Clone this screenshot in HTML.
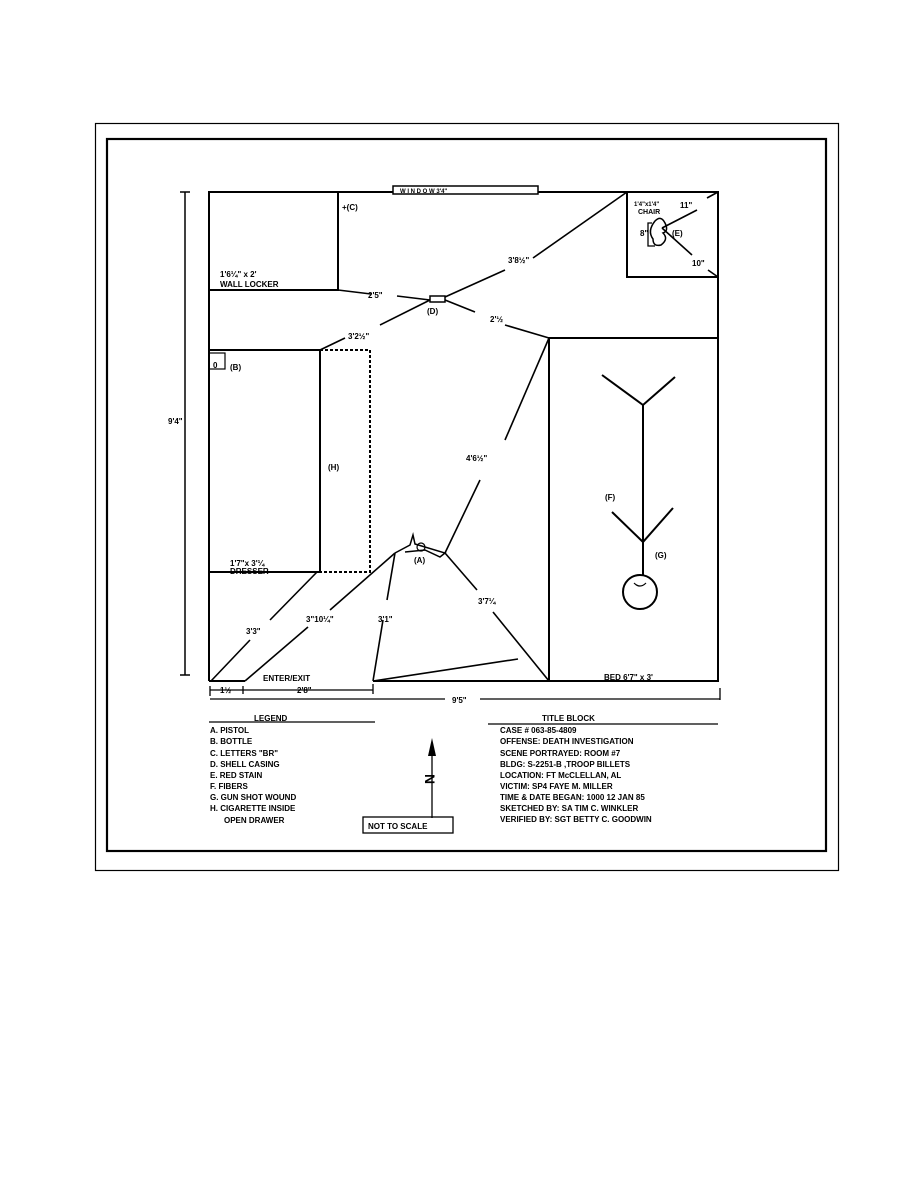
<!DOCTYPE html>
<html><head><style>
body{margin:0;background:#fff;width:918px;height:1188px;overflow:hidden}
svg{display:block}
text{font-family:"Liberation Sans",sans-serif;font-weight:bold;fill:#000}
</style></head><body>
<svg width="918" height="1188" viewBox="0 0 918 1188">
<rect x="95.5" y="123.5" width="743" height="747" fill="none" stroke="#000" stroke-width="1.2"/>
<rect x="107" y="139" width="719" height="712" fill="none" stroke="#000" stroke-width="2.2"/>
<g stroke="#000" fill="none" stroke-width="2">
<polyline points="209,681 209,192 718,192 718,681 373,681"/>
<line x1="209" y1="681" x2="245" y2="681"/>
<rect x="393" y="186" width="145" height="8" fill="#fff" stroke-width="1.5"/>
<polyline points="338,192 338,290 209,290"/>
<polyline points="627,192 627,277 718,277"/>
<polyline points="718,338 549,338 549,681"/>
<polyline points="209,350 320,350 320,572 209,572"/>
<polyline points="320,350 370,350 370,572 320,572" stroke-dasharray="3,2"/>
<rect x="209" y="353" width="16" height="16" stroke-width="1.2"/>
<g stroke-width="1.6">
<line x1="338" y1="290" x2="371" y2="294"/><line x1="397" y1="296" x2="430" y2="300"/>
<line x1="445" y1="297" x2="505" y2="270"/><line x1="533" y1="258" x2="627" y2="192"/>
<line x1="445" y1="300" x2="475" y2="312"/><line x1="505" y1="325" x2="549" y2="338"/>
<line x1="430" y1="300" x2="380" y2="325"/><line x1="345" y1="338" x2="320" y2="350"/>
<line x1="445" y1="553" x2="480" y2="480"/><line x1="505" y1="440" x2="549" y2="338"/>
<line x1="445" y1="553" x2="477" y2="590"/><line x1="493" y1="612" x2="549" y2="681"/>
<line x1="373" y1="681" x2="383" y2="620"/><line x1="387" y1="600" x2="395" y2="553"/>
<line x1="245" y1="681" x2="308" y2="627"/><line x1="330" y1="610" x2="395" y2="553"/>
<line x1="211" y1="681" x2="250" y2="640"/><line x1="270" y1="620" x2="317" y2="572"/>
<line x1="373" y1="681" x2="518" y2="659"/>
<line x1="697" y1="210" x2="662" y2="228"/><line x1="662" y1="228" x2="692" y2="255"/>
<line x1="707" y1="198" x2="718" y2="192"/><line x1="708" y1="270" x2="718" y2="277"/>
</g>
<rect x="430" y="296" width="15" height="6" stroke-width="1.5"/>
<polyline points="395,553 410,545 413,535 415,544 445,553 440,557 425,550 405,552" stroke-width="1.5"/>
<circle cx="421" cy="547" r="4" stroke-width="1.2"/>
<path d="M655,221 q6,-6 10,2 q4,8 -2,10 q6,6 -2,12 q-8,2 -8,-6 q-6,-8 2,-18z" stroke-width="1.5"/>
<polyline points="652,223 648,223 648,246 655,246" stroke-width="1.3"/>
<polyline points="602,375 643,405 675,377"/>
<line x1="643" y1="405" x2="643" y2="575"/>
<polyline points="612,512 643,542 673,508"/>
<ellipse cx="640" cy="592" rx="17" ry="17"/>
<path d="M634,583 q6,6 12,0" stroke-width="1.2"/>
<line x1="185" y1="192" x2="185" y2="675" stroke-width="1.5"/>
<line x1="180" y1="192" x2="190" y2="192" stroke-width="1.5"/>
<line x1="180" y1="675" x2="190" y2="675" stroke-width="1.5"/>
<line x1="210" y1="690" x2="373" y2="690" stroke-width="1.3"/>
<line x1="210" y1="686" x2="210" y2="696" stroke-width="1.3"/><line x1="243" y1="686" x2="243" y2="694" stroke-width="1.3"/><line x1="373" y1="684" x2="373" y2="694" stroke-width="1.3"/>
<line x1="210" y1="699" x2="445" y2="699" stroke-width="1.3"/><line x1="480" y1="699" x2="720" y2="699" stroke-width="1.3"/>
<line x1="720" y1="688" x2="720" y2="700" stroke-width="1.3"/>
<line x1="209" y1="722" x2="375" y2="722" stroke-width="1.3"/>
<line x1="488" y1="724" x2="718" y2="724" stroke-width="1.3"/>
<line x1="432" y1="745" x2="432" y2="818" stroke-width="1.3"/>
<rect x="363" y="817" width="90" height="16" stroke-width="1.3"/>
</g>
<polygon points="432,738 428,756 436,756" fill="#000"/>
<text x="424" y="785" font-size="14" transform="rotate(90 430 780)">N</text>
<g font-size="8">
<text x="400" y="193" font-size="6">W I N D O W  3'4"</text>
<text x="342" y="210">+(C)</text>
<text x="220" y="277">1'6¼" x 2'</text><text x="220" y="287">WALL LOCKER</text>
<text x="634" y="206" font-size="6">1'4"x1'4"</text><text x="638" y="214" font-size="7">CHAIR</text>
<text x="680" y="208">11"</text><text x="640" y="236">8"</text><text x="672" y="236">(E)</text><text x="692" y="266">10"</text>
<text x="508" y="263">3'8½"</text>
<text x="368" y="298">2'5"</text>
<text x="427" y="314">(D)</text>
<text x="490" y="322">2'½</text>
<text x="348" y="339">3'2½"</text>
<text x="213" y="368">0</text><text x="230" y="370">(B)</text>
<text x="328" y="470">(H)</text>
<text x="466" y="461">4'6½"</text>
<text x="605" y="500">(F)</text><text x="655" y="558">(G)</text>
<text x="230" y="566">1'7"x 3'¼</text><text x="230" y="574">DRESSER</text>
<text x="414" y="563">(A)</text>
<text x="478" y="604">3'7¼</text>
<text x="378" y="622">3'1"</text>
<text x="306" y="622">3"10¼"</text>
<text x="246" y="634">3'3"</text>
<text x="263" y="681">ENTER/EXIT</text>
<text x="604" y="680">BED 6'7" x 3'</text>
<text x="220" y="693">1½</text><text x="297" y="693">2'8"</text>
<text x="452" y="703">9'5"</text>
<text x="168" y="424">9'4"</text>
<text x="254" y="721">LEGEND</text>
<text x="210" y="733">A. PISTOL</text>
<text x="210" y="744">B. BOTTLE</text>
<text x="210" y="756">C. LETTERS "BR"</text>
<text x="210" y="767">D. SHELL CASING</text>
<text x="210" y="778">E. RED STAIN</text>
<text x="210" y="789">F. FIBERS</text>
<text x="210" y="800">G. GUN SHOT WOUND</text>
<text x="210" y="811">H. CIGARETTE INSIDE</text>
<text x="224" y="823">OPEN DRAWER</text>
<text x="368" y="829">NOT TO SCALE</text>
<text x="542" y="721">TITLE BLOCK</text>
<text x="500" y="733">CASE # 063-85-4809</text>
<text x="500" y="744">OFFENSE: DEATH INVESTIGATION</text>
<text x="500" y="756">SCENE PORTRAYED: ROOM #7</text>
<text x="500" y="767">BLDG: S-2251-B ,TROOP BILLETS</text>
<text x="500" y="778">LOCATION: FT McCLELLAN, AL</text>
<text x="500" y="789">VICTIM: SP4 FAYE M. MILLER</text>
<text x="500" y="800">TIME &amp; DATE BEGAN: 1000 12 JAN 85</text>
<text x="500" y="811">SKETCHED BY: SA TIM C. WINKLER</text>
<text x="500" y="822">VERIFIED BY: SGT BETTY C. GOODWIN</text>
</g>
</svg>
</body></html>
